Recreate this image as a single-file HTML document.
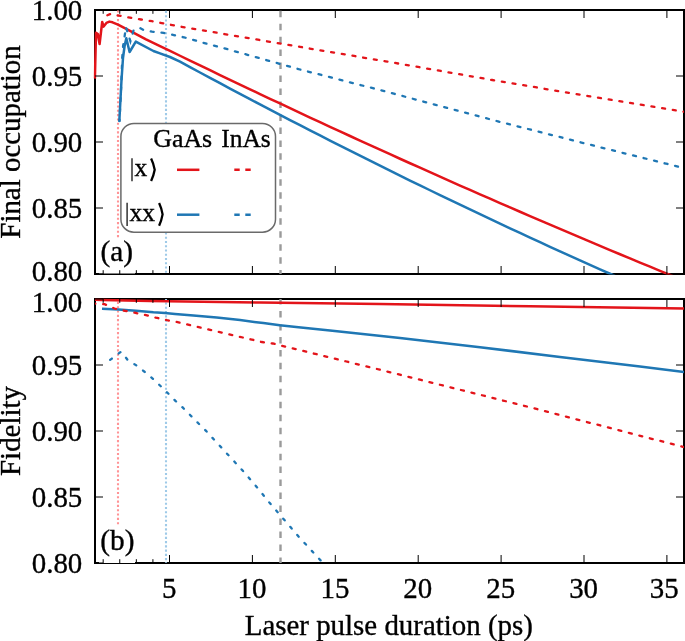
<!DOCTYPE html>
<html><head><meta charset="utf-8"><style>html,body{margin:0;padding:0;background:#fff;overflow:hidden;}svg{display:block;will-change:transform;}</style></head>
<body>
<svg width="685" height="641" viewBox="0 0 685 641">
<style>
.tl { font-family: "Liberation Serif", serif; font-size: 29.5px; fill:#000; stroke:#000; stroke-width:0.35px; }
.lg { font-family: "Liberation Serif", serif; font-size: 25.5px; fill:#000; stroke:#000; stroke-width:0.35px; }
.tk { stroke:#000; stroke-width:1; }
</style>
<rect width="685" height="641" fill="#fff"/>
<defs>
<clipPath id="ct"><rect x="93.5" y="9.0" width="590.5" height="265.5"/></clipPath>
<clipPath id="cb"><rect x="95.0" y="297.5" width="589.0" height="265.5"/></clipPath>
</defs>
<!-- top panel -->
<rect x="95.0" y="10.0" width="589.0" height="264.0" fill="none" stroke="#000" stroke-width="2"/>
<g clip-path="url(#ct)">
<line x1="118" y1="10.0" x2="118" y2="274.0" stroke="#ff9496" stroke-width="2.1" stroke-dasharray="2.1,2.22" stroke-dashoffset="3.91"/>
<line x1="166" y1="10.0" x2="166" y2="274.0" stroke="#9fcae8" stroke-width="2.1" stroke-dasharray="2.1,2.16" stroke-dashoffset="-0.87"/>
<line x1="280.5" y1="10.0" x2="280.5" y2="274.0" stroke="#9a9a9a" stroke-width="2.4" stroke-dasharray="6.5,6.47" stroke-dashoffset="-0.7"/>
<path d="M94.90,78.60 L96.00,32.80 L97.90,34.00 L98.30,37.00 L99.60,44.00 L102.20,21.90 L103.60,26.60 L106.40,22.90 L109.40,21.60 L112.50,22.30 L118.00,24.60 L130.00,30.90 L146.00,39.40 L160.00,46.03 L170.00,50.89 L180.00,55.75 L190.00,60.59 L200.00,65.42 L210.00,70.23 L220.00,75.03 L230.00,79.81 L240.00,84.58 L250.00,89.33 L260.00,94.06 L270.00,98.78 L280.00,103.49 L290.00,108.18 L300.00,112.85 L310.00,117.51 L320.00,122.15 L330.00,126.78 L340.00,131.39 L350.00,135.99 L360.00,140.57 L370.00,145.13 L380.00,149.68 L390.00,154.22 L400.00,158.74 L410.00,163.24 L420.00,167.73 L430.00,172.20 L440.00,176.66 L450.00,181.10 L460.00,185.53 L470.00,189.94 L480.00,194.34 L490.00,198.72 L500.00,203.08 L510.00,207.43 L520.00,211.77 L530.00,216.08 L540.00,220.39 L550.00,224.68 L560.00,228.95 L570.00,233.20 L580.00,237.45 L590.00,241.67 L600.00,245.88 L610.00,250.08 L620.00,254.26 L630.00,258.42 L640.00,262.57 L650.00,266.70 L660.00,270.82 L670.00,274.92 L675.00,276.97" stroke="#e3141a" stroke-width="2.5" fill="none" stroke-linejoin="round"/>
<path d="M119.30,121.70 L121.50,80.00 L123.00,58.00 L124.60,46.00 L126.30,38.20 L129.60,52.00 L135.80,41.60 L153.40,51.00 L160.00,53.40 L170.00,57.00 L180.00,61.65 L190.00,67.08 L200.00,72.48 L210.00,77.86 L220.00,83.21 L230.00,88.54 L240.00,93.85 L250.00,99.14 L260.00,104.40 L270.00,109.64 L280.00,114.85 L290.00,120.04 L300.00,125.21 L310.00,130.36 L320.00,135.48 L330.00,140.57 L340.00,145.65 L350.00,150.70 L360.00,155.72 L370.00,160.73 L380.00,165.71 L390.00,170.66 L400.00,175.60 L410.00,180.51 L420.00,185.39 L430.00,190.25 L440.00,195.09 L450.00,199.91 L460.00,204.70 L470.00,209.47 L480.00,214.21 L490.00,218.93 L500.00,223.63 L510.00,228.31 L520.00,232.96 L530.00,237.58 L540.00,242.19 L550.00,246.77 L560.00,251.33 L570.00,255.86 L580.00,260.37 L590.00,264.86 L600.00,269.32 L610.00,273.76 L615.00,275.97" stroke="#1f77b4" stroke-width="2.5" fill="none" stroke-linejoin="round"/>
<path d="M106.30,15.70 L110.00,14.10 L113.00,13.70 L117.10,15.20 L121.10,16.00 L130.00,17.60 L141.00,19.50 L152.00,21.20 L180.00,26.50 L226.00,34.30 L300.00,46.90 L385.60,61.30 L492.30,80.00 L588.10,96.10 L684.00,111.80" stroke="#e3141a" stroke-width="2.3" fill="none" stroke-linecap="round" stroke-dasharray="3.0,7.83" stroke-dashoffset="-1.15"/>
<path d="M119.50,121.00 L121.50,80.00 L122.20,58.00 L123.10,46.00 L124.80,35.00 L125.90,27.00 L130.40,41.30 L133.70,29.80 L140.20,28.20 L143.50,29.90 L152.00,31.70 L163.60,32.90 L173.80,35.10 L184.00,37.30 L204.50,43.10 L225.60,48.70 L300.00,69.50 L381.00,90.30 L498.00,121.40 L592.00,145.20 L684.00,168.10" stroke="#1f77b4" stroke-width="2.3" fill="none" stroke-linecap="round" stroke-dasharray="3.0,7.83" stroke-dashoffset="1.75"/>
</g>
<!-- legend -->
<rect x="120.9" y="123.4" width="154.6" height="108.8" rx="13" ry="13" fill="#fff" stroke="#6a6a6a" stroke-width="1.5"/>
<text x="153.2" y="147.1" class="lg" textLength="59" lengthAdjust="spacingAndGlyphs">GaAs</text>
<text x="221.2" y="147.1" class="lg" textLength="49.6" lengthAdjust="spacingAndGlyphs">InAs</text>
<line x1="177" y1="169.8" x2="199.4" y2="169.8" stroke="#e3141a" stroke-width="2.5"/>
<line x1="234.3" y1="169.8" x2="251" y2="169.8" stroke="#e3141a" stroke-width="2.5" stroke-dasharray="5.4,5.6"/>
<line x1="177" y1="214.7" x2="199.4" y2="214.7" stroke="#1f77b4" stroke-width="2.5"/>
<line x1="234.3" y1="214.7" x2="251" y2="214.7" stroke="#1f77b4" stroke-width="2.5" stroke-dasharray="5.4,5.6"/>
<line x1="132" y1="158.2" x2="132" y2="181.2" stroke="#222" stroke-width="1.4"/>
<text x="134.5" y="175.6" class="lg">x</text>
<path d="M151.1,158.5 Q153.6,163.6 154.7,169.7 Q153.6,175.8 151.1,180.9" stroke="#000" stroke-width="2.3" stroke-linejoin="round" fill="none"/>
<line x1="127.1" y1="202.8" x2="127.1" y2="225.9" stroke="#222" stroke-width="1.4"/>
<text x="129.5" y="220.9" class="lg">xx</text>
<path d="M159.1,203.1 Q161.5,208.2 162.6,214.4 Q161.5,220.6 159.1,225.7" stroke="#000" stroke-width="2.3" stroke-linejoin="round" fill="none"/>
<!-- (a) -->
<rect x="99" y="238" width="36" height="35.5" fill="#fff"/>
<text transform="translate(100.50,260.60) scale(0.995,1.0)" text-anchor="start" class="tl">(a)</text>
<line x1="103.18" y1="274.0" x2="103.18" y2="270.2" class="tk"/>
<line x1="103.18" y1="10.0" x2="103.18" y2="13.8" class="tk"/>
<line x1="119.76" y1="274.0" x2="119.76" y2="270.2" class="tk"/>
<line x1="119.76" y1="10.0" x2="119.76" y2="13.8" class="tk"/>
<line x1="136.34" y1="274.0" x2="136.34" y2="270.2" class="tk"/>
<line x1="136.34" y1="10.0" x2="136.34" y2="13.8" class="tk"/>
<line x1="152.92" y1="274.0" x2="152.92" y2="270.2" class="tk"/>
<line x1="152.92" y1="10.0" x2="152.92" y2="13.8" class="tk"/>
<line x1="169.50" y1="274.0" x2="169.50" y2="266.0" class="tk"/>
<line x1="169.50" y1="10.0" x2="169.50" y2="18.0" class="tk"/>
<line x1="252.40" y1="274.0" x2="252.40" y2="266.0" class="tk"/>
<line x1="252.40" y1="10.0" x2="252.40" y2="18.0" class="tk"/>
<line x1="335.30" y1="274.0" x2="335.30" y2="266.0" class="tk"/>
<line x1="335.30" y1="10.0" x2="335.30" y2="18.0" class="tk"/>
<line x1="418.20" y1="274.0" x2="418.20" y2="266.0" class="tk"/>
<line x1="418.20" y1="10.0" x2="418.20" y2="18.0" class="tk"/>
<line x1="501.10" y1="274.0" x2="501.10" y2="266.0" class="tk"/>
<line x1="501.10" y1="10.0" x2="501.10" y2="18.0" class="tk"/>
<line x1="584.00" y1="274.0" x2="584.00" y2="266.0" class="tk"/>
<line x1="584.00" y1="10.0" x2="584.00" y2="18.0" class="tk"/>
<line x1="666.90" y1="274.0" x2="666.90" y2="266.0" class="tk"/>
<line x1="666.90" y1="10.0" x2="666.90" y2="18.0" class="tk"/>
<line x1="95.0" y1="10.0" x2="103.0" y2="10.0" class="tk"/>
<line x1="684.0" y1="10.0" x2="676.0" y2="10.0" class="tk"/>
<line x1="95.0" y1="76.0" x2="103.0" y2="76.0" class="tk"/>
<line x1="684.0" y1="76.0" x2="676.0" y2="76.0" class="tk"/>
<line x1="95.0" y1="142.0" x2="103.0" y2="142.0" class="tk"/>
<line x1="684.0" y1="142.0" x2="676.0" y2="142.0" class="tk"/>
<line x1="95.0" y1="208.0" x2="103.0" y2="208.0" class="tk"/>
<line x1="684.0" y1="208.0" x2="676.0" y2="208.0" class="tk"/>
<line x1="95.0" y1="274.0" x2="103.0" y2="274.0" class="tk"/>
<line x1="684.0" y1="274.0" x2="676.0" y2="274.0" class="tk"/>
<text transform="translate(82.30,19.90) scale(0.98,1.025)" text-anchor="end" class="tl">1.00</text>
<text transform="translate(82.30,85.90) scale(0.98,1.025)" text-anchor="end" class="tl">0.95</text>
<text transform="translate(82.30,151.90) scale(0.98,1.025)" text-anchor="end" class="tl">0.90</text>
<text transform="translate(82.30,217.90) scale(0.98,1.025)" text-anchor="end" class="tl">0.85</text>
<text transform="translate(82.30,281.10) scale(0.98,1.025)" text-anchor="end" class="tl">0.80</text>

<!-- bottom panel -->
<rect x="95.0" y="299.0" width="589.0" height="264.0" fill="none" stroke="#000" stroke-width="2"/>
<g clip-path="url(#cb)">
<line x1="118" y1="299.0" x2="118" y2="563.0" stroke="#ff9496" stroke-width="2.1" stroke-dasharray="2.1,2.22" stroke-dashoffset="1.5"/>
<line x1="166" y1="299.0" x2="166" y2="563.0" stroke="#9fcae8" stroke-width="2.1" stroke-dasharray="2.1,2.16" stroke-dashoffset="0.75"/>
<line x1="280.5" y1="299.0" x2="280.5" y2="563.0" stroke="#9a9a9a" stroke-width="2.4" stroke-dasharray="6.5,6.47" stroke-dashoffset="1.0"/>
<path d="M95.00,299.80 L102.00,300.00 L150.00,300.90 L260.00,302.60 L300.00,303.10 L380.00,304.00 L530.00,306.30 L684.00,308.60" stroke="#e3141a" stroke-width="2.5" fill="none" stroke-linejoin="round"/>
<path d="M102.00,308.80 L118.40,309.60 L135.90,310.70 L153.40,312.30 L165.00,312.90 L175.00,313.90 L193.40,315.60 L216.70,317.60 L240.10,320.10 L263.40,323.10 L279.80,325.30 L298.50,327.20 L330.00,330.40 L400.00,338.10 L480.00,347.20 L560.00,357.00 L640.00,366.60 L684.00,371.90" stroke="#1f77b4" stroke-width="2.5" fill="none" stroke-linejoin="round"/>
<path d="M95.00,303.60 L104.60,304.20 L114.50,308.50 L125.00,310.80 L135.50,312.90 L146.00,315.10 L156.00,317.70 L167.00,320.20 L175.80,321.80 L262.00,342.00 L272.80,343.50 L377.00,369.00 L525.30,406.10 L684.00,447.10" stroke="#e3141a" stroke-width="2.3" fill="none" stroke-linecap="round" stroke-dasharray="3.0,7.83" stroke-dashoffset="2.65"/>
<path d="M109.20,360.60 L121.00,351.70 L126.00,357.80 L128.00,360.50 L136.00,365.10 L144.20,371.50 L152.60,378.50 L160.00,385.50 L167.00,392.30 L175.40,400.80 L182.90,407.70 L190.30,415.20 L197.80,422.70 L205.30,430.10 L219.50,445.50 L241.90,469.80 L256.10,486.20 L269.80,503.10 L283.50,519.00 L299.00,537.00 L321.60,561.50 L323.00,563.50" stroke="#1f77b4" stroke-width="2.3" fill="none" stroke-linecap="round" stroke-dasharray="2.2,8.55" stroke-dashoffset="-1.15"/>
</g>
<rect x="99" y="525" width="36" height="38" fill="#fff"/>
<text transform="translate(100.20,549.80) scale(0.995,1.0)" text-anchor="start" class="tl">(b)</text>
<line x1="103.18" y1="563.0" x2="103.18" y2="559.2" class="tk"/>
<line x1="103.18" y1="299.0" x2="103.18" y2="302.8" class="tk"/>
<line x1="119.76" y1="563.0" x2="119.76" y2="559.2" class="tk"/>
<line x1="119.76" y1="299.0" x2="119.76" y2="302.8" class="tk"/>
<line x1="136.34" y1="563.0" x2="136.34" y2="559.2" class="tk"/>
<line x1="136.34" y1="299.0" x2="136.34" y2="302.8" class="tk"/>
<line x1="152.92" y1="563.0" x2="152.92" y2="559.2" class="tk"/>
<line x1="152.92" y1="299.0" x2="152.92" y2="302.8" class="tk"/>
<line x1="169.50" y1="563.0" x2="169.50" y2="555.0" class="tk"/>
<line x1="169.50" y1="299.0" x2="169.50" y2="307.0" class="tk"/>
<line x1="252.40" y1="563.0" x2="252.40" y2="555.0" class="tk"/>
<line x1="252.40" y1="299.0" x2="252.40" y2="307.0" class="tk"/>
<line x1="335.30" y1="563.0" x2="335.30" y2="555.0" class="tk"/>
<line x1="335.30" y1="299.0" x2="335.30" y2="307.0" class="tk"/>
<line x1="418.20" y1="563.0" x2="418.20" y2="555.0" class="tk"/>
<line x1="418.20" y1="299.0" x2="418.20" y2="307.0" class="tk"/>
<line x1="501.10" y1="563.0" x2="501.10" y2="555.0" class="tk"/>
<line x1="501.10" y1="299.0" x2="501.10" y2="307.0" class="tk"/>
<line x1="584.00" y1="563.0" x2="584.00" y2="555.0" class="tk"/>
<line x1="584.00" y1="299.0" x2="584.00" y2="307.0" class="tk"/>
<line x1="666.90" y1="563.0" x2="666.90" y2="555.0" class="tk"/>
<line x1="666.90" y1="299.0" x2="666.90" y2="307.0" class="tk"/>
<line x1="95.0" y1="299.0" x2="103.0" y2="299.0" class="tk"/>
<line x1="684.0" y1="299.0" x2="676.0" y2="299.0" class="tk"/>
<line x1="95.0" y1="365.0" x2="103.0" y2="365.0" class="tk"/>
<line x1="684.0" y1="365.0" x2="676.0" y2="365.0" class="tk"/>
<line x1="95.0" y1="431.0" x2="103.0" y2="431.0" class="tk"/>
<line x1="684.0" y1="431.0" x2="676.0" y2="431.0" class="tk"/>
<line x1="95.0" y1="497.0" x2="103.0" y2="497.0" class="tk"/>
<line x1="684.0" y1="497.0" x2="676.0" y2="497.0" class="tk"/>
<line x1="95.0" y1="563.0" x2="103.0" y2="563.0" class="tk"/>
<line x1="684.0" y1="563.0" x2="676.0" y2="563.0" class="tk"/>
<text transform="translate(82.30,311.50) scale(0.98,1.025)" text-anchor="end" class="tl">1.00</text>
<text transform="translate(82.30,374.90) scale(0.98,1.025)" text-anchor="end" class="tl">0.95</text>
<text transform="translate(82.30,440.90) scale(0.98,1.025)" text-anchor="end" class="tl">0.90</text>
<text transform="translate(82.30,506.90) scale(0.98,1.025)" text-anchor="end" class="tl">0.85</text>
<text transform="translate(82.30,572.90) scale(0.98,1.025)" text-anchor="end" class="tl">0.80</text>
<text transform="translate(169.10,598.30) scale(0.98,1.025)" text-anchor="middle" class="tl">5</text>
<text transform="translate(252.00,598.30) scale(0.98,1.025)" text-anchor="middle" class="tl">10</text>
<text transform="translate(334.90,598.30) scale(0.98,1.025)" text-anchor="middle" class="tl">15</text>
<text transform="translate(417.80,598.30) scale(0.98,1.025)" text-anchor="middle" class="tl">20</text>
<text transform="translate(500.70,598.30) scale(0.98,1.025)" text-anchor="middle" class="tl">25</text>
<text transform="translate(583.60,598.30) scale(0.98,1.025)" text-anchor="middle" class="tl">30</text>
<text transform="translate(664.30,598.30) scale(0.98,1.025)" text-anchor="middle" class="tl">35</text>
<text transform="translate(388.80,634.90) scale(0.98,1.0)" text-anchor="middle" class="tl">Laser pulse duration (ps)</text>
<text transform="translate(20.20,142.00) rotate(-90) scale(0.98,1.0)" text-anchor="middle" class="tl">Final occupation</text>
<text transform="translate(20.20,431.00) rotate(-90) scale(0.98,1.0)" text-anchor="middle" class="tl">Fidelity</text>
</svg>
</body></html>
